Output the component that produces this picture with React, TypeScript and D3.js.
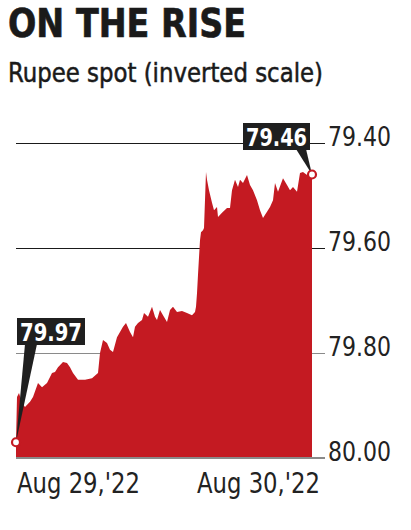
import React, { useEffect, useRef } from 'react';
import * as d3 from 'd3';

// Rupee spot, intraday, Aug 29 - Aug 30 2022
const times = [
  '2022-08-29 00:00', '2022-08-29 00:08', '2022-08-29 00:24', '2022-08-29 00:48', '2022-08-29 01:12',
  '2022-08-29 01:52', '2022-08-29 02:16', '2022-08-29 02:56', '2022-08-29 03:28', '2022-08-29 04:08',
  '2022-08-29 04:48', '2022-08-29 05:12', '2022-08-29 05:36', '2022-08-29 06:16', '2022-08-29 06:48',
  '2022-08-29 07:12', '2022-08-29 07:36', '2022-08-29 08:16', '2022-08-29 09:12', '2022-08-29 10:08',
  '2022-08-29 10:56', '2022-08-29 11:12', '2022-08-29 11:36', '2022-08-29 12:08', '2022-08-29 12:32',
  '2022-08-29 12:56', '2022-08-29 13:28', '2022-08-29 13:52', '2022-08-29 14:16', '2022-08-29 14:40',
  '2022-08-29 15:12', '2022-08-29 15:36', '2022-08-29 15:52', '2022-08-29 16:16', '2022-08-29 16:48',
  '2022-08-29 17:04', '2022-08-29 17:36', '2022-08-29 18:08', '2022-08-29 18:32', '2022-08-29 18:48',
  '2022-08-29 19:12', '2022-08-29 19:36', '2022-08-29 20:08', '2022-08-29 20:32', '2022-08-29 20:56',
  '2022-08-29 21:28', '2022-08-29 22:08', '2022-08-29 22:48', '2022-08-29 23:28', '2022-08-29 23:52',
  '2022-08-30 00:00', '2022-08-30 00:08', '2022-08-30 00:16', '2022-08-30 00:32', '2022-08-30 00:40',
  '2022-08-30 00:56', '2022-08-30 01:04', '2022-08-30 01:20', '2022-08-30 01:28', '2022-08-30 01:44',
  '2022-08-30 02:08', '2022-08-30 02:24', '2022-08-30 02:48', '2022-08-30 02:56', '2022-08-30 03:28',
  '2022-08-30 04:08', '2022-08-30 04:32', '2022-08-30 04:48', '2022-08-30 05:12', '2022-08-30 05:36',
  '2022-08-30 05:52', '2022-08-30 06:16', '2022-08-30 06:48', '2022-08-30 07:12', '2022-08-30 07:36',
  '2022-08-30 08:08', '2022-08-30 08:32', '2022-08-30 08:56', '2022-08-30 09:28', '2022-08-30 09:52',
  '2022-08-30 10:16', '2022-08-30 10:32', '2022-08-30 10:56', '2022-08-30 11:36', '2022-08-30 12:08',
  '2022-08-30 12:32', '2022-08-30 12:56', '2022-08-30 13:28', '2022-08-30 13:52', '2022-08-30 14:16',
  '2022-08-30 14:48', '2022-08-30 15:12', '2022-08-30 15:28',
];

const rates = [
  79.97, 79.884, 79.876, 79.895, 79.903,
  79.893, 79.884, 79.857, 79.865, 79.857,
  79.838, 79.836, 79.827, 79.817, 79.819,
  79.827, 79.838, 79.851, 79.851, 79.848,
  79.838, 79.8, 79.775, 79.781, 79.794,
  79.798, 79.77, 79.76, 79.75, 79.743,
  79.76, 79.77, 79.75, 79.743, 79.737,
  79.724, 79.731, 79.712, 79.731, 79.737,
  79.718, 79.728, 79.741, 79.718, 79.712,
  79.722, 79.72, 79.724, 79.728, 79.722,
  79.712, 79.686, 79.651, 79.585, 79.57,
  79.566, 79.562, 79.455, 79.47, 79.49,
  79.514, 79.528, 79.522, 79.541, 79.533,
  79.524, 79.524, 79.49, 79.47, 79.484,
  79.47, 79.476, 79.461, 79.48, 79.49,
  79.509, 79.528, 79.543, 79.531, 79.522,
  79.509, 79.476, 79.493, 79.467, 79.48,
  79.49, 79.484, 79.493, 79.457, 79.455,
  79.461, 79.461, 79.46,
];

const yTicks = [79.4, 79.6, 79.8, 80.0];
const xTicks = ['2022-08-29 00:00', '2022-08-30 00:00'];

const FONT = "'DejaVu Sans Condensed', 'Liberation Sans Narrow', 'Roboto', sans-serif";

const App: React.FC = () => {
  const svgRef = useRef<SVGSVGElement>(null);

  useEffect(() => {
    if (!svgRef.current) return;
    const svg = d3.select(svgRef.current);
    svg.selectAll('*').remove();

    const parse = d3.timeParse('%Y-%m-%d %H:%M');
    const data = times.map((t, i) => ({ date: parse(t) as Date, value: rates[i] }));

    const x = d3.scaleTime()
      .domain([data[0].date, data[data.length - 1].date])
      .range([16, 312]);

    // inverted scale: stronger rupee at the top
    const y = d3.scaleLinear()
      .domain([79.4, 80.0])
      .range([143, 458]);

    svg.append('text')
      .attr('x', 8)
      .attr('y', 37)
      .attr('font-family', FONT)
      .attr('font-size', 39)
      .attr('font-weight', 'bold')
      .attr('fill', '#1a1a1a')
      .attr('stroke', '#1a1a1a')
      .attr('stroke-width', 0.6)
      .attr('textLength', 238)
      .attr('lengthAdjust', 'spacingAndGlyphs')
      .text('ON THE RISE');

    svg.append('text')
      .attr('x', 8)
      .attr('y', 82)
      .attr('font-family', FONT)
      .attr('font-size', 27)
      .attr('fill', '#1a1a1a')
      .attr('stroke', '#1a1a1a')
      .attr('stroke-width', 0.5)
      .attr('textLength', 315)
      .attr('lengthAdjust', 'spacingAndGlyphs')
      .text('Rupee spot (inverted scale)');

    // grid lines
    svg.selectAll('.grid')
      .data(yTicks)
      .enter()
      .append('line')
      .attr('class', 'grid')
      .attr('x1', 16)
      .attr('x2', 325)
      .attr('y1', d => Math.round(y(d)) + 0.5)
      .attr('y2', d => Math.round(y(d)) + 0.5)
      .attr('stroke', d => (d >= 79.8 ? '#8a8a8a' : '#1a1a1a'))
      .attr('stroke-width', 1);

    const area = d3.area<{ date: Date; value: number }>()
      .x(d => x(d.date))
      .y0(y(80.0))
      .y1(d => y(d.value));

    svg.append('path')
      .datum(data)
      .attr('fill', '#c41a22')
      .attr('d', area);

    svg.append('line')
      .attr('x1', 16)
      .attr('x2', 325)
      .attr('y1', y(80.0))
      .attr('y2', y(80.0))
      .attr('stroke', '#8a8a8a')
      .attr('stroke-width', 2);

    // y labels
    svg.selectAll('.ylab')
      .data(yTicks)
      .enter()
      .append('text')
      .attr('class', 'ylab')
      .attr('x', 328)
      .attr('y', d => y(d) + 3)
      .attr('font-family', FONT)
      .attr('font-size', 27)
      .attr('fill', '#222')
      .attr('textLength', 63)
      .attr('lengthAdjust', 'spacingAndGlyphs')
      .text(d => d3.format('.2f')(d));

    // x labels
    svg.selectAll('.xlab')
      .data(xTicks)
      .enter()
      .append('text')
      .attr('class', 'xlab')
      .attr('x', d => x(parse(d) as Date) + 1)
      .attr('y', 493)
      .attr('font-family', FONT)
      .attr('font-size', 28)
      .attr('fill', '#222')
      .attr('textLength', 123)
      .attr('lengthAdjust', 'spacingAndGlyphs')
      .text(d => d3.timeFormat("%b %d,'%y")(parse(d) as Date));

    // callouts on first and last point
    const first = data[0];
    const last = data[data.length - 1];
    const callouts = [
      { d: first, bx: 17, by: 318, bw: 68, px: [25, 37] },
      { d: last, bx: 243, by: 123, bw: 67, px: [296, 306] },
    ];

    callouts.forEach(c => {
      const cx = x(c.d.date);
      const cy = y(c.d.value);
      svg.append('path')
        .attr('d', `M${c.px[0]},${c.by + 26}L${c.px[1]},${c.by + 26}L${cx},${cy}Z`)
        .attr('fill', '#1f1f1f');
      svg.append('rect')
        .attr('x', c.bx)
        .attr('y', c.by)
        .attr('width', c.bw)
        .attr('height', 27)
        .attr('fill', '#1f1f1f');
      svg.append('text')
        .attr('x', c.bx + 3)
        .attr('y', c.by + 23)
        .attr('font-family', FONT)
        .attr('font-size', 25)
        .attr('font-weight', 'bold')
        .attr('fill', '#fff')
        .attr('textLength', c.bw - 6)
        .attr('lengthAdjust', 'spacingAndGlyphs')
        .text(d3.format('.2f')(c.d.value));
      svg.append('circle')
        .attr('cx', cx)
        .attr('cy', cy)
        .attr('r', 4)
        .attr('fill', '#fff')
        .attr('stroke', '#c41a22')
        .attr('stroke-width', 2.2);
    });
  }, []);

  return (
    <div style={{ position: 'absolute', left: 0, top: 0 }}>
      <svg ref={svgRef} width={411} height={530} style={{ display: 'block', background: '#fff' }}></svg>
    </div>
  );
};

export default App;
